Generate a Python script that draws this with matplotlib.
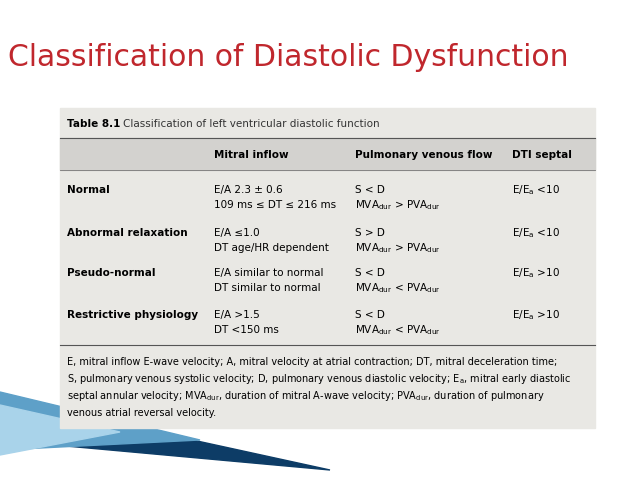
import matplotlib
matplotlib.use("Agg")
import matplotlib.pyplot as plt
from matplotlib.patches import Rectangle, Polygon

title = "Classification of Diastolic Dysfunction"
table_caption = "Classification of left ventricular diastolic function"
headers = ["Mitral inflow", "Pulmonary venous flow", "DTI septal"]
categories = ["Normal", "Abnormal relaxation", "Pseudo-normal", "Restrictive physiology"]
mitral = [("E/A 2.3 ± 0.6", "109 ms ≤ DT ≤ 216 ms"),
          ("E/A ≤1.0", "DT age/HR dependent"),
          ("E/A similar to normal", "DT similar to normal"),
          ("E/A >1.5", "DT <150 ms")]
pulm = [("S < D", r"MVA$_{\mathrm{dur}}$ > PVA$_{\mathrm{dur}}$"),
        ("S > D", r"MVA$_{\mathrm{dur}}$ > PVA$_{\mathrm{dur}}$"),
        ("S < D", r"MVA$_{\mathrm{dur}}$ < PVA$_{\mathrm{dur}}$"),
        ("S < D", r"MVA$_{\mathrm{dur}}$ < PVA$_{\mathrm{dur}}$")]
dti = [r"E/E$_{\mathrm{a}}$ <10", r"E/E$_{\mathrm{a}}$ <10", r"E/E$_{\mathrm{a}}$ >10", r"E/E$_{\mathrm{a}}$ >10"]
footnote = ["E, mitral inflow E-wave velocity; A, mitral velocity at atrial contraction; DT, mitral deceleration time;",
            r"S, pulmonary venous systolic velocity; D, pulmonary venous diastolic velocity; E$_{\mathrm{a}}$, mitral early diastolic",
            r"septal annular velocity; MVA$_{\mathrm{dur}}$, duration of mitral A-wave velocity; PVA$_{\mathrm{dur}}$, duration of pulmonary",
            "venous atrial reversal velocity."]

fig = plt.figure(figsize=(6.38, 4.79), dpi=100)
ax = fig.add_axes([0, 0, 1, 1])
ax.set_xlim(0, 638); ax.set_ylim(479, 0); ax.axis("off")

# decoration
ax.add_patch(Polygon([(0, 398), (330, 470), (0, 440)], color="#0d3c66", zorder=1))
ax.add_patch(Polygon([(0, 392), (200, 440), (0, 450)], color="#5ea0c8", zorder=1))
ax.add_patch(Polygon([(0, 405), (120, 432), (0, 455)], color="#a9d3ea", zorder=1))

ax.text(8, 57, title, color="#c0272d", fontsize=21.5, va="center", family="DejaVu Sans")

ax.add_patch(Rectangle((60, 108), 535, 320, color="#e9e8e4", zorder=2))
ax.add_patch(Rectangle((60, 138), 535, 32, color="#d3d2cf", zorder=2))
ax.text(67, 124, "Table 8.1", fontsize=7.5, weight="bold", va="center", zorder=3)
ax.text(123, 124, table_caption, fontsize=7.5, va="center", zorder=3, color="#333")
ax.plot([60, 595], [138, 138], color="#555", lw=0.8, zorder=3)
ax.plot([60, 595], [170, 170], color="#777", lw=0.6, zorder=3)
ax.plot([60, 595], [345, 345], color="#555", lw=0.8, zorder=3)

colx = [214, 355, 512]
for x, h in zip(colx, headers):
    ax.text(x, 155, h, fontsize=7.5, weight="bold", va="center", zorder=3)
rowy = [190, 233, 273, 315]
for i, y in enumerate(rowy):
    ax.text(67, y, categories[i], fontsize=7.5, weight="bold", va="center", zorder=3)
    ax.text(colx[0], y, mitral[i][0], fontsize=7.5, va="center", zorder=3)
    ax.text(colx[0], y + 15, mitral[i][1], fontsize=7.5, va="center", zorder=3)
    ax.text(colx[1], y, pulm[i][0], fontsize=7.5, va="center", zorder=3)
    ax.text(colx[1], y + 15, pulm[i][1], fontsize=7.5, va="center", zorder=3)
    ax.text(colx[2], y, dti[i], fontsize=7.5, va="center", zorder=3)
for j, line in enumerate(footnote):
    ax.text(67, 362 + j * 17, line, fontsize=7, va="center", zorder=3)

fig.savefig("out.png", dpi=100)
